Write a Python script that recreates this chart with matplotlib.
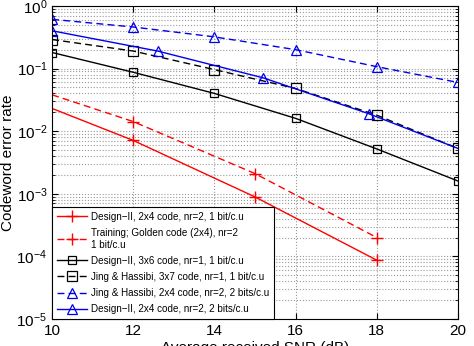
import matplotlib
matplotlib.use('Agg')
import matplotlib.pyplot as plt
from matplotlib.ticker import LogLocator, NullFormatter

plt.rcParams['font.family'] = ['Liberation Sans', 'DejaVu Sans']

# Design-II, 2x4 code, nr=2, 1 bit/c.u
snr_d2_1 = [10, 12, 15, 18]
cer_d2_1 = [0.023, 0.0071, 0.00089, 8.7e-5]
# Training; Golden code
snr_gold = [10, 12, 15, 18]
cer_gold = [0.038, 0.0142, 0.0021, 2.0e-4]
# Design-II, 3x6 code, nr=1
snr_d36 = [10, 12, 14, 16, 18, 20]
cer_d36 = [0.18, 0.087, 0.040, 0.016, 0.0052, 0.0016]
# Jing & Hassibi 3x7, nr=1
snr_jh37 = [10, 12, 14, 16, 18, 20]
cer_jh37 = [0.29, 0.19, 0.096, 0.048, 0.018, 0.0053]
# Jing & Hassibi 2x4, nr=2, 2 bits
snr_jh24 = [10, 12, 14, 16, 18, 20]
cer_jh24 = [0.61, 0.46, 0.32, 0.20, 0.107, 0.060]
# Design-II, 2x4 code, nr=2, 2 bits
snr_d2_2 = [10, 12.6, 15.2, 17.8, 20]
cer_d2_2 = [0.40, 0.19, 0.071, 0.019, 0.0053]

fig = plt.figure(figsize=(4.74, 3.46), dpi=100)
ax = fig.add_axes([0.110, 0.078, 0.856, 0.905])

lw = 1.0
dash = (0, (5, 3))
ax.semilogy(snr_d2_1, cer_d2_1, 'r-', marker='+', ms=8, mew=1.0, lw=lw,
            markevery=[1, 2, 3], label='Design\u2212II, 2x4 code, nr=2, 1 bit/c.u')
ax.semilogy(snr_gold, cer_gold, 'r', ls=dash, marker='+', ms=8, mew=1.0, lw=lw,
            markevery=[1, 2, 3], label='Training; Golden code (2x4), nr=2\n1 bit/c.u')
ax.semilogy(snr_d36, cer_d36, 'k-', marker='s', ms=6, mfc='none', mew=0.9, lw=lw,
            label='Design\u2212II, 3x6 code, nr=1, 1 bit/c.u')
ax.semilogy(snr_jh37, cer_jh37, 'k', ls=dash, marker='s', ms=7, mfc='none', mew=0.9, lw=lw,
            label='Jing & Hassibi, 3x7 code, nr=1, 1 bit/c.u')
ax.semilogy(snr_jh24, cer_jh24, color='#0000ee', ls=dash, marker='^', ms=7, mfc='none',
            mew=0.9, lw=lw, label='Jing & Hassibi, 2x4 code, nr=2, 2 bits/c.u')
ax.semilogy(snr_d2_2, cer_d2_2, '-', color='#0000ee', marker='^', ms=7, mfc='none',
            mew=0.9, lw=lw, markevery=[0, 1, 2, 3],
            label='Design\u2212II, 2x4 code, nr=2, 2 bits/c.u')

ax.set_xlim(10, 20)
ax.set_ylim(1e-5, 1)
ax.set_xticks([10, 12, 14, 16, 18, 20])
ax.yaxis.set_major_locator(LogLocator(base=10, numticks=10))
ax.yaxis.set_minor_locator(LogLocator(base=10, subs=range(2, 10), numticks=10))
ax.yaxis.set_minor_formatter(NullFormatter())
ax.tick_params(which='both', direction='in', top=True, right=True, labelsize=11)
ax.tick_params(which='major', length=4)
ax.tick_params(which='minor', length=2)
ax.grid(True, which='major', ls=':', color='#999999', lw=0.8)
ax.grid(True, which='minor', axis='y', ls=':', color='#999999', lw=0.8)
for s in ax.spines.values():
    s.set_linewidth(0.8)

ax.set_xlabel('Average received SNR (dB)', fontsize=11, labelpad=2)
ax.set_ylabel('Codeword error rate', fontsize=11, labelpad=1)

leg = ax.legend(loc='lower left', fontsize=7.1, handlelength=3.0, borderaxespad=0,
                fancybox=False, framealpha=1, edgecolor='black', labelspacing=0.62,
                borderpad=0.5, handletextpad=0.4)
leg.get_frame().set_linewidth(0.8)

fig.savefig('out.png', dpi=100)
